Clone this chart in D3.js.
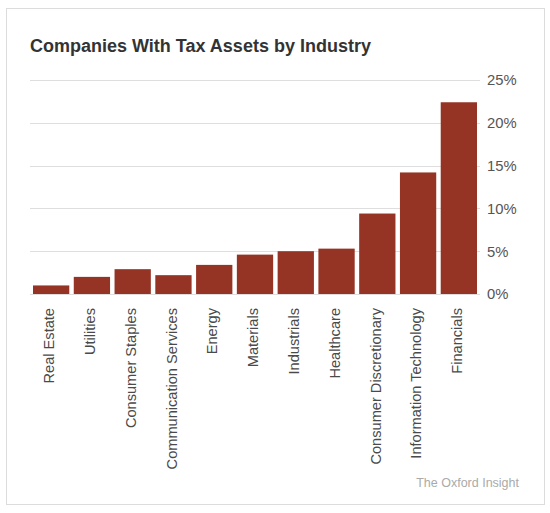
<!DOCTYPE html>
<html>
<head>
<meta charset="utf-8">
<script src="https://cdn.jsdelivr.net/npm/d3@7"></script>
<style>
  body { margin: 0; background: #fff; }
</style>
</head>
<body>
<div id="chart"></div>
<script>
// industries, sorted as in the chart
const industries = ['Real Estate', 'Utilities', 'Consumer Staples', 'Communication Services',
    'Energy', 'Materials', 'Industrials', 'Healthcare', 'Consumer Discretionary',
    'Information Technology', 'Financials'];
// share of companies with tax assets, in %
const shares = [1.0, 2.0, 2.9, 2.2, 3.4, 4.6, 5.0, 5.3, 9.4, 14.2, 22.4];
const yTicks = [0, 5, 10, 15, 20, 25];

const width = 550, height = 513;
const margin = {top: 80, right: 72, bottom: 219, left: 33};

const data = industries.map((d, i) => ({name: d, value: shares[i]}));

const svg = d3.select('#chart')
    .append('svg')
    .attr('width', width)
    .attr('height', height)
    .style('font-family', '"Liberation Sans", Arial, sans-serif');

// card
svg.append('rect')
    .attr('x', 6.5).attr('y', 8.5)
    .attr('width', 538).attr('height', 496)
    .attr('fill', '#fff')
    .attr('stroke', '#dcdcdc');

svg.append('text')
    .attr('x', 30).attr('y', 52)
    .attr('fill', '#333')
    .attr('font-size', 18)
    .attr('font-weight', 'bold')
    .text('Companies With Tax Assets by Industry');

const x = d3.scaleBand()
    .domain(industries)
    .range([margin.left, width - margin.right - 1])
    .paddingInner(0.11)
    .paddingOuter(0);

const y = d3.scaleLinear()
    .domain([0, 25])
    .range([height - margin.bottom, margin.top]);

// gridlines + right labels
const grid = svg.append('g');
grid.selectAll('line')
    .data(yTicks)
    .join('line')
    .attr('x1', 30).attr('x2', 480)
    .attr('y1', d => Math.round(y(d)) + 0.5)
    .attr('y2', d => Math.round(y(d)) + 0.5)
    .attr('stroke', '#dedede');

grid.selectAll('text')
    .data(yTicks)
    .join('text')
    .attr('x', 487)
    .attr('y', d => y(d))
    .attr('dy', '0.36em')
    .attr('fill', '#555')
    .attr('font-size', 14.8)
    .text(d => d + '%');

// bars
svg.append('g')
    .selectAll('rect')
    .data(data)
    .join('rect')
    .attr('x', d => x(d.name))
    .attr('y', d => y(d.value))
    .attr('width', x.bandwidth())
    .attr('height', d => y(0) - y(d.value))
    .attr('fill', '#953424');

// rotated category labels
svg.append('g')
    .selectAll('text')
    .data(data)
    .join('text')
    .attr('transform', d => `translate(${x(d.name) + x.bandwidth() / 2 - 2}, 308) rotate(-90)`)
    .attr('text-anchor', 'end')
    .attr('dy', '0.36em')
    .attr('fill', '#4a4a4a')
    .attr('font-size', 14.6)
    .text(d => d.name);

svg.append('text')
    .attr('x', 519).attr('y', 487)
    .attr('text-anchor', 'end')
    .attr('fill', '#aaa')
    .attr('font-size', 12.5)
    .text('The Oxford Insight');
</script>
</body>
</html>
